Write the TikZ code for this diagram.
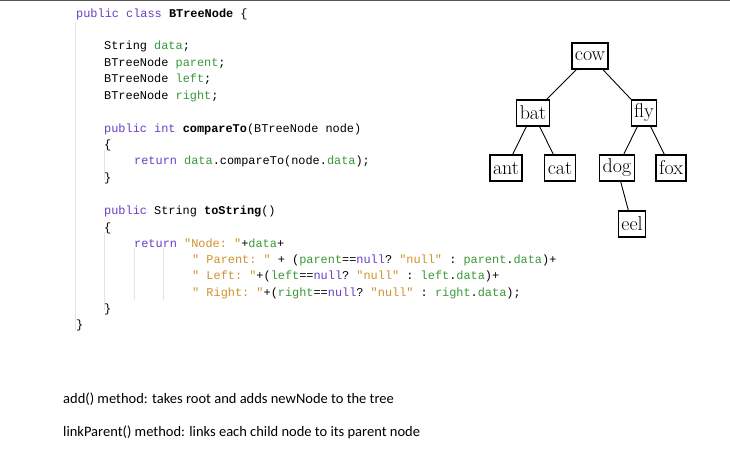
\documentclass[tikz,border=0pt]{standalone}
\usepackage{fontspec}
\setmonofont{Liberation Mono}
\newfontfamily\calib{Carlito}
\definecolor{kw}{HTML}{6A3FC8}
\definecolor{fd}{HTML}{3A9A3A}
\definecolor{st}{HTML}{D0922E}
\definecolor{guide}{HTML}{E4E4E4}
\newcommand{\K}[1]{\textcolor{kw}{#1}}
\newcommand{\F}[1]{\textcolor{fd}{#1}}
\newcommand{\Sg}[1]{\textcolor{st}{#1}}
\begin{document}
\begin{tikzpicture}[x=1pt,y=-1pt,
  code/.style={anchor=base west,inner sep=0pt,font=\ttfamily\fontsize{11.9}{12}\selectfont},
  tree/.style={draw,line width=1.2pt,inner xsep=3pt,inner ysep=2pt,minimum height=26pt,font=\fontsize{20}{21}\selectfont},
  edge/.style={line width=0.9pt},
  plain/.style={anchor=base west,inner sep=0pt,font=\calib\fontsize{14.5}{16}\selectfont}]
\useasboundingbox (0,0) rectangle (730,475);
\fill[white] (0,0) rectangle (730,475);
\draw[gray!70!black,line width=1pt] (0,0.5) -- (730,0.5);
% guides
\draw[guide] (75,22) -- (75,330);
\draw[guide] (104,150) -- (104,180);
\draw[guide] (104,232) -- (104,310);
\draw[guide] (134,248) -- (134,300);
\draw[guide] (163,248) -- (163,300);
% code
\node[code] (c1) at (76,17) {\K{public} \K{class} \textbf{BTreeNode} \{};
\node[code] (c2) at (104,49) {String \F{data};};
\node[code] (c3) at (104,66) {BTreeNode \F{parent};};
\node[code] (c4) at (104,82) {BTreeNode \F{left};};
\node[code] (c5) at (104,99) {BTreeNode \F{right};};
\node[code] (c6) at (104,132) {\K{public} \K{int} \textbf{compareTo}(BTreeNode node)};
\node[code] (c7) at (104,148) {\{};
\node[code] (c8) at (134,164) {\K{return} \F{data}.compareTo(node.\F{data});};
\node[code] (c9) at (104,181) {\}};
\node[code] (c10) at (104,214) {\K{public} String \textbf{toString}()};
\node[code] (c11) at (104,231) {\{};
\node[code] (c12) at (134,247) {\K{return} \Sg{"Node: "}+\F{data}+};
\node[code] (c13) at (192,263) {\Sg{" Parent: "} + (\F{parent}==\K{null}? \Sg{"null"} : \F{parent}.\F{data})+};
\node[code] (c14) at (192,279) {\Sg{" Left: "}+(\F{left}==\K{null}? \Sg{"null"} : \F{left}.\F{data})+};
\node[code] (c15) at (192,296) {\Sg{" Right: "}+(\F{right}==\K{null}? \Sg{"null"} : \F{right}.\F{data});};
\node[code] (c16) at (104,312) {\}};
\node[code] (c17) at (76,328) {\}};
% tree
\node[tree] (cow) at (590,56) {cow};
\node[tree] (bat) at (533,113) {bat};
\node[tree] (fly) at (644,113) {fly};
\node[tree] (ant) at (506,168) {ant};
\node[tree] (cat) at (560,168) {cat};
\node[tree] (dog) at (617,168) {dog};
\node[tree] (fox) at (671,168) {fox};
\node[tree] (eel) at (632,224) {eel};
\draw[edge] (cow) -- (bat);
\draw[edge] (cow) -- (fly);
\draw[edge] (bat) -- (ant);
\draw[edge] (bat) -- (cat);
\draw[edge] (fly) -- (dog);
\draw[edge] (fly) -- (fox);
\draw[edge] (dog) -- (eel);
% text
\node[plain] (t1) at (63,403) {add() method: takes root and adds newNode to the tree};
\node[plain] (t2) at (63,436) {linkParent() method: links each child node to its parent node};
\end{tikzpicture}
\end{document}
